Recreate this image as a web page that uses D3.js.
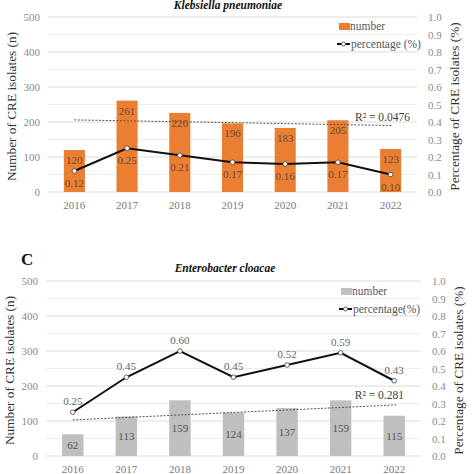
<!DOCTYPE html>
<html>
<head>
<meta charset="utf-8">
<script src="https://cdn.jsdelivr.net/npm/d3@7"></script>
<style>
  html, body { margin: 0; padding: 0; background: #fff; }
  svg { display: block; font-family: "Liberation Serif", "DejaVu Serif", serif; }
</style>
</head>
<body>
<svg id="chart" width="474" height="474"></svg>
<script>
// === Data ===
const years = ['2016', '2017', '2018', '2019', '2020', '2021', '2022'];

const kpNumber  = [120, 261, 226, 196, 183, 205, 123];
const kpPercent = [0.12, 0.25, 0.21, 0.17, 0.16, 0.17, 0.10];
const kpTrend   = [206, 190];          // dotted trend of the bars, 2016 -> 2022
const kpR2      = 'R² = 0.0476';

const ecNumber  = [62, 113, 159, 124, 137, 159, 115];
const ecPercent = [0.25, 0.45, 0.60, 0.45, 0.52, 0.59, 0.43];
const ecTrend   = [103, 146];
const ecR2      = 'R² = 0.281';

const leftTicks  = [0, 100, 200, 300, 400, 500];
const rightTicks = [0, 0.1, 0.2, 0.3, 0.4, 0.5, 0.6, 0.7, 0.8, 0.9, 1.0];

const svg = d3.select('#chart');

// --- One panel ---
function drawPanel(cfg) {
  const g = svg.append('g');

  const x = d3.scaleBand().domain(years)
    .range([cfg.left, cfg.right]).paddingInner(0.6).paddingOuter(0.3);
  const y = d3.scaleLinear().domain([0, 500]).range([cfg.bottom, cfg.top]);
  const yp = d3.scaleLinear().domain([0, 1]).range([cfg.bottom, cfg.top]);
  const cx = d => x(d) + x.bandwidth() / 2;

  // grid: faint every 50, stronger every 100
  g.append('g').selectAll('line')
    .data(d3.range(0, 501, 50))
    .join('line')
    .attr('x1', cfg.left).attr('x2', cfg.right)
    .attr('y1', d => y(d)).attr('y2', d => y(d))
    .attr('stroke', d => d % 100 === 0 ? '#dcdcdc' : '#eeeeee')
    .attr('stroke-width', 1);

  // left axis labels
  g.append('g').selectAll('text')
    .data(leftTicks)
    .join('text')
    .attr('x', cfg.left - 8).attr('y', d => y(d) + 4)
    .attr('text-anchor', 'end')
    .attr('font-size', 11).attr('fill', '#8a8a8a')
    .text(d => d);

  // right axis labels
  g.append('g').selectAll('text')
    .data(rightTicks)
    .join('text')
    .attr('x', cfg.right + 11).attr('y', d => yp(d) + 4)
    .attr('text-anchor', 'start')
    .attr('font-size', 11).attr('fill', '#8a8a8a')
    .text(d => d3.format('.1f')(d));

  // x axis labels
  g.append('g').selectAll('text')
    .data(years)
    .join('text')
    .attr('x', d => cx(d)).attr('y', cfg.bottom + 17)
    .attr('text-anchor', 'middle')
    .attr('font-size', 11).attr('fill', '#7a7a7a')
    .text(d => d);

  // bars
  g.append('g').selectAll('rect')
    .data(cfg.number)
    .join('rect')
    .attr('x', (d, i) => x(years[i]))
    .attr('y', d => y(d))
    .attr('width', x.bandwidth())
    .attr('height', d => y(0) - y(d))
    .attr('fill', cfg.barColor);

  // bar labels
  g.append('g').selectAll('text')
    .data(cfg.number)
    .join('text')
    .attr('x', (d, i) => cx(years[i]))
    .attr('y', d => cfg.barLabelInside ? y(d) / 2 + y(0) / 2 + 4 : y(d) + 14)
    .attr('text-anchor', 'middle')
    .attr('font-size', 11).attr('fill', cfg.barLabelColor)
    .text(d => d);

  // trend line (dotted)
  g.append('line')
    .attr('x1', cx(years[0])).attr('x2', cx(years[years.length - 1]) + 2)
    .attr('y1', y(cfg.trend[0])).attr('y2', y(cfg.trend[1]))
    .attr('stroke', '#555').attr('stroke-width', 1)
    .attr('stroke-dasharray', '2,1.5');

  g.append('text')
    .attr('x', cfg.r2x).attr('y', y(cfg.trend[1]) + cfg.r2dy)
    .attr('text-anchor', 'end')
    .attr('font-size', 11.5).attr('fill', '#404040')
    .text(cfg.r2);

  // percentage line
  const line = d3.line().x((d, i) => cx(years[i])).y(d => yp(d));
  g.append('path')
    .datum(cfg.percent)
    .attr('d', line)
    .attr('fill', 'none').attr('stroke', '#111').attr('stroke-width', 2);

  g.append('g').selectAll('circle')
    .data(cfg.percent)
    .join('circle')
    .attr('cx', (d, i) => cx(years[i])).attr('cy', d => yp(d))
    .attr('r', 2.3)
    .attr('fill', '#fff').attr('stroke', '#444').attr('stroke-width', 0.8);

  g.append('g').selectAll('text')
    .data(cfg.percent)
    .join('text')
    .attr('x', (d, i) => cx(years[i]))
    .attr('y', d => yp(d) + cfg.pctLabelDy)
    .attr('text-anchor', 'middle')
    .attr('font-size', 11).attr('fill', cfg.pctLabelColor)
    .text(d => d3.format('.2f')(d));

  // title
  g.append('text')
    .attr('x', cfg.titleX).attr('y', cfg.titleY)
    .attr('text-anchor', 'middle')
    .attr('font-size', 11.5).attr('font-weight', 'bold').attr('font-style', 'italic')
    .attr('fill', '#111')
    .text(cfg.title);

  // axis titles
  const midY = (cfg.top + cfg.bottom) / 2;
  g.append('text')
    .attr('transform', `translate(${cfg.left - 32},${midY + 2}) rotate(-90)`)
    .attr('text-anchor', 'middle')
    .attr('font-size', 13.3).attr('fill', '#333')
    .text('Number of  CRE isolates (n)');

  g.append('text')
    .attr('transform', `translate(${cfg.right + 42},${midY + 2}) rotate(-90)`)
    .attr('text-anchor', 'middle')
    .attr('font-size', 13.3).attr('fill', '#333')
    .text('Percentage of CRE isolates (%)');

  // legend
  const lg = g.append('g').attr('transform', `translate(${cfg.legendX},${cfg.legendY})`);
  lg.append('rect').attr('x', 0).attr('y', -4).attr('width', 11).attr('height', 7)
    .attr('fill', cfg.barColor);
  lg.append('text').attr('x', 11).attr('y', 3)
    .attr('font-size', 11.5).attr('fill', '#595959').text('number');
  lg.append('line').attr('x1', -2).attr('x2', 11).attr('y1', 17).attr('y2', 17)
    .attr('stroke', '#111').attr('stroke-width', 2);
  lg.append('circle').attr('cx', 4.5).attr('cy', 17).attr('r', 2)
    .attr('fill', '#fff').attr('stroke', '#444').attr('stroke-width', 0.8);
  lg.append('text').attr('x', 12).attr('y', 21)
    .attr('font-size', 11.5).attr('fill', '#595959').text(cfg.pctLegend);
}

drawPanel({
  title: 'Klebsiella pneumoniae', titleX: 228, titleY: 9,
  left: 48, right: 417, top: 17, bottom: 192,
  number: kpNumber, percent: kpPercent, trend: kpTrend, r2: kpR2,
  r2x: 410, r2dy: -5,
  barColor: '#EA7E32', barLabelColor: '#6a4a35', barLabelInside: false,
  pctLabelDy: 16, pctLabelColor: '#6a4a35',
  legendX: 339, legendY: 27, pctLegend: 'percentage (%)'
});

drawPanel({
  title: 'Enterobacter cloacae', titleX: 225, titleY: 272,
  left: 46, right: 421, top: 281, bottom: 456,
  number: ecNumber, percent: ecPercent, trend: ecTrend, r2: ecR2,
  r2x: 404, r2dy: -6,
  barColor: '#BFBFBF', barLabelColor: '#555', barLabelInside: true,
  pctLabelDy: -7, pctLabelColor: '#666',
  legendX: 341, legendY: 292, pctLegend: 'percentage(%)'
});

// panel letter
svg.append('text')
  .attr('x', 21).attr('y', 265)
  .attr('font-size', 17).attr('font-weight', 'bold').attr('fill', '#111')
  .text('C');
</script>
</body>
</html>
